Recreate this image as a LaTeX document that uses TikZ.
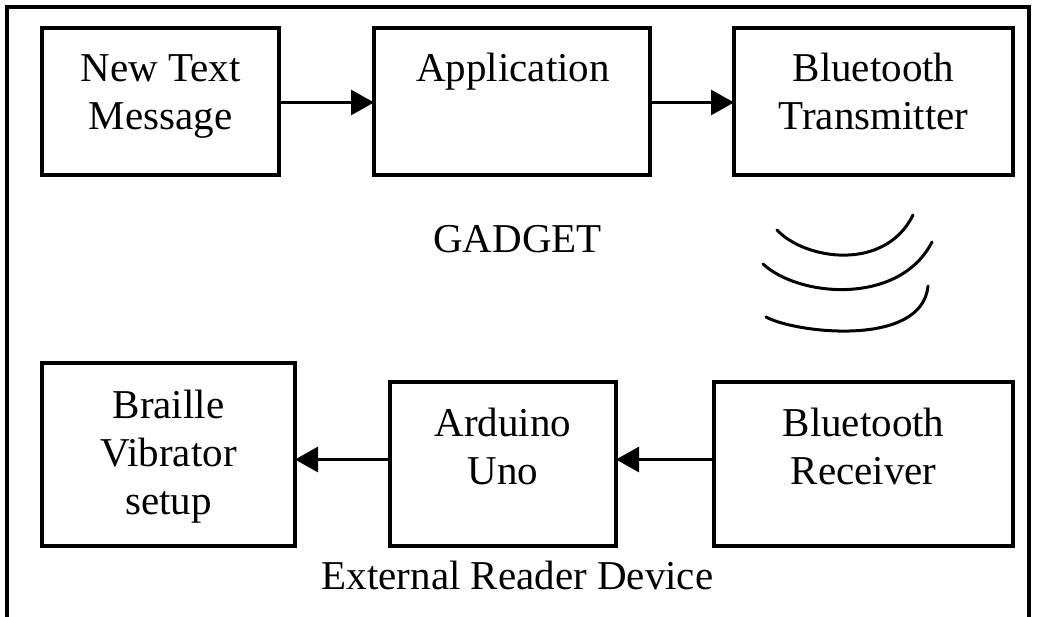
\documentclass[tikz,border=0pt]{standalone}
\usepackage{fontspec}
\setmainfont{Liberation Serif}
\usetikzlibrary{arrows.meta}
\tikzset{
  box/.style={draw, line width=4pt, rectangle, inner sep=0pt, outer sep=0pt, anchor=north west},
  lbl/.style={font=\fontsize{41}{48}\selectfont, align=center, inner sep=0pt, anchor=base},
  arr/.style={line width=3pt, -{Triangle[length=23pt,width=25pt]}},
  wave/.style={line width=3pt, line cap=round},
  frame/.style={line width=4pt}
}
\begin{document}
\begin{tikzpicture}[x=1pt,y=-1pt]
\useasboundingbox (0,0) rectangle (1048,617);
% outer frame
\draw[frame] (7,620) -- (7,7.5) -- (1029,7.5) -- (1029,620);
% top row
\node[box, minimum width=237pt, minimum height=147pt] (b1) at (42,28) {};
\node[box, minimum width=276pt, minimum height=147pt] (b2) at (374,28) {};
\node[box, minimum width=279pt, minimum height=147pt] (b3) at (734,28) {};
\node[lbl] (t1) at (160.5,130) {New Text\\Message};
\node[lbl] (t2) at (513,82) {Application};
\node[lbl] (t3) at (873.5,130) {Bluetooth\\Transmitter};
\draw[arr] ([yshift=-1pt]b1.east) -- ([yshift=-1pt]b2.west);
\draw[arr] ([yshift=-1pt]b2.east) -- ([yshift=-1pt]b3.west);
% gadget label
\node[lbl] (g) at (517.5,253) {GADGET};
% waves
\draw[wave] (777,230) .. controls (805,260) and (885,272) .. (913,215);
\draw[wave] (763,264) .. controls (800,298) and (900,305) .. (932,242);
\draw[wave] (766,317) .. controls (795,333) and (922,348) .. (928,286);
% bottom row
\node[box, minimum width=253pt, minimum height=183pt] (b4) at (42,363) {};
\node[box, minimum width=226pt, minimum height=164pt] (b5) at (390,382) {};
\node[box, minimum width=299pt, minimum height=164pt] (b6) at (714,382) {};
\node[lbl] (t4) at (168.5,514) {Braille\\Vibrator\\setup};
\node[lbl] (t5) at (503,484) {Arduino\\Uno};
\node[lbl] (t6) at (863.5,484) {Bluetooth\\Receiver};
\coordinate (m6) at ([yshift=4.5pt]b6.west);
\coordinate (m5) at ([yshift=4.5pt]b5.west);
\draw[arr] (m6) -- (b5.east |- m6);
\draw[arr] (m5) -- (b4.east |- m5);
% external label
\node[lbl] (e) at (517.5,589) {External Reader Device};
\end{tikzpicture}
\end{document}
